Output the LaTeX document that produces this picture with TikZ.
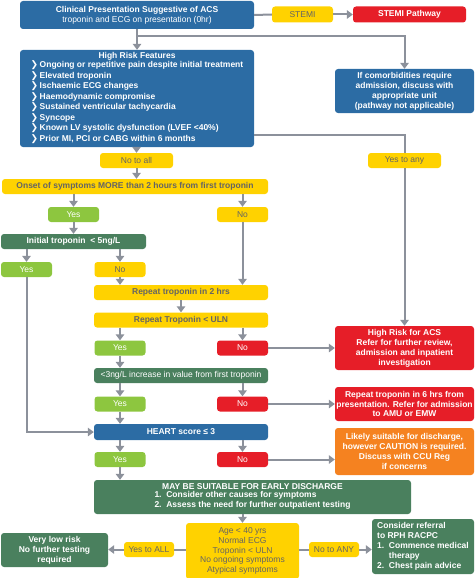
\documentclass[tikz,border=0pt]{standalone}
\usepackage{fontspec}
\setmainfont{Liberation Sans}
\newfontfamily\symfont{DejaVu Sans}
\usepackage{tikz}
\usetikzlibrary{arrows.meta}

\definecolor{acsblue}{RGB}{44,108,164}
\definecolor{acsyellow}{RGB}{255,210,0}
\definecolor{acslime}{RGB}{141,198,63}
\definecolor{acsgreen}{RGB}{74,128,94}
\definecolor{acsred}{RGB}{230,30,40}
\definecolor{acsorange}{RGB}{245,130,32}
\definecolor{acsgrey}{RGB}{140,145,155}
\definecolor{acstext}{RGB}{100,100,100}

\newcommand{\chev}{{\symfont\small ❯}\,}

\begin{document}
\begin{tikzpicture}[x=1pt,y=-1pt,
  cell/.style={rounded corners=3pt,inner sep=1pt,align=center,
    font=\fontsize{8.5}{9.9}\selectfont},
  bluebox/.style={cell,fill=acsblue,text=white,font=\fontsize{8.5}{9.9}\selectfont\bfseries},
  ybox/.style={cell,fill=acsyellow,text=acstext},
  ybold/.style={cell,fill=acsyellow,text=acstext,font=\fontsize{8.5}{9.9}\selectfont\bfseries},
  gbox/.style={cell,fill=acslime,text=white},
  dgbox/.style={cell,fill=acsgreen,text=white,font=\fontsize{8.5}{9.9}\selectfont\bfseries},
  rbox/.style={cell,fill=acsred,text=white,font=\fontsize{8.5}{9.9}\selectfont\bfseries},
  nobox/.style={cell,fill=acsred,text=white},
  obox/.style={cell,fill=acsorange,text=white,font=\fontsize{8.5}{9.9}\selectfont\bfseries},
  yesno/.style={minimum width=51pt,minimum height=15pt},
  line/.style={draw=acsgrey,line width=2pt},
  flow/.style={line,-{Triangle[width=8.5pt,length=6pt]},color=acsgrey}]
\useasboundingbox (0,0) rectangle (474,578);

% top of the pathway
\node[bluebox,minimum width=234pt,minimum height=28pt] (clin) at (137,15)
  {Clinical Presentation Suggestive of ACS\\
   {\mdseries troponin and ECG on presentation (0hr)}};
\node[ybox,minimum width=61pt,minimum height=16pt] (stemi) at (302.5,14.5) {STEMI};
\node[rbox,minimum width=113pt,minimum height=16pt] (stemip) at (409.5,14.5) {STEMI Pathway};
\node[bluebox,minimum width=234pt,minimum height=97pt] (hrf) at (137,98.5)
  {High Risk Features\\[-1.5pt]
   \def\arraystretch{1.06}%
   \begin{tabular}{@{}l@{}}
   \chev Ongoing or repetitive pain despite initial treatment\\
   \chev Elevated troponin\\
   \chev Ischaemic ECG changes\\
   \chev Haemodynamic compromise\\
   \chev Sustained ventricular tachycardia\\
   \chev Syncope\\
   \chev Known LV systolic dysfunction (LVEF <40\%)\\
   \chev Prior MI, PCI or CABG within 6 months
   \end{tabular}};
\node[bluebox,minimum width=139pt,minimum height=44pt] (comorb) at (404.5,91)
  {If comorbidities require\\admission, discuss with\\appropriate unit\\(pathway not applicable)};
\node[ybox,minimum width=73pt,minimum height=15pt] (noall) at (136.5,160.5) {No to all};
\node[ybox,minimum width=73pt,minimum height=15pt] (yesany) at (404.5,160.5) {Yes to any};

% troponin steps
\node[ybold,minimum width=266pt,minimum height=15pt] (onset) at (135,186.5)
  {Onset of symptoms MORE than 2 hours from first troponin};
\node[gbox,yesno] (yes1) at (73.5,214.5) {Yes};
\node[ybox,yesno] (no1) at (242.5,214.5) {No};
\node[dgbox,minimum width=145pt,minimum height=15pt] (init) at (73.5,241.5)
  {Initial troponin \ \textless\ 5ng/L};
\node[gbox,yesno] (yes2) at (26.5,269.5) {Yes};
\node[ybox,yesno] (no2) at (120,269.5) {No};
\node[ybold,minimum width=174pt,minimum height=15pt] (rep2) at (181,292.5) {Repeat troponin in 2 hrs};
\node[ybold,minimum width=174pt,minimum height=15pt] (uln) at (181,320) {Repeat Troponin \textless\ ULN};
\node[gbox,yesno] (yes3) at (120,348) {Yes};
\node[nobox,yesno] (no3) at (242.5,348) {No};
\node[rbox,minimum width=139pt,minimum height=44pt] (hracs) at (404.5,348)
  {High Risk for ACS\\Refer for further review,\\admission and inpatient\\investigation};
\node[cell,fill=acsgreen,text=white,minimum width=174pt,minimum height=15pt] (lt3) at (181,375.5)
  {\textless3ng/L increase in value from first troponin};
\node[gbox,yesno] (yes4) at (120,404) {Yes};
\node[nobox,yesno] (no4) at (242.5,404) {No};
\node[rbox,minimum width=139pt,minimum height=34pt] (rep6) at (404.5,404)
  {Repeat troponin in 6 hrs from\\presentation. Refer for admission\\to AMU or EMW};
\node[bluebox,minimum width=174pt,minimum height=16pt] (heart) at (181,432) {HEART score ≤ 3};
\node[obox,minimum width=139pt,minimum height=47pt] (likely) at (404.5,451.5)
  {Likely suitable for discharge,\\however CAUTION is required.\\Discuss with CCU Reg\\if concerns};
\node[gbox,yesno] (yes5) at (120,459.5) {Yes};
\node[nobox,yesno] (no5) at (242.5,459.5) {No};

% discharge
\node[dgbox,minimum width=317pt,minimum height=34pt] (may) at (252.5,497)
  {MAY BE SUITABLE FOR EARLY DISCHARGE\\
   \begin{tabular}{@{}l@{}}
   1.\ \ Consider other causes for symptoms\\
   2.\ \ Assess the need for further outpatient testing
   \end{tabular}};
\node[ybox,minimum width=113pt,minimum height=56pt] (age) at (242.5,551)
  {Age \textless\ 40 yrs\\Normal ECG\\Troponin \textless\ ULN\\No ongoing symptoms\\Atypical symptoms};
\node[dgbox,minimum width=107pt,minimum height=34pt] (vlr) at (54.5,550)
  {Very low risk\\No further testing\\required};
\node[ybox,minimum width=50pt,minimum height=15pt] (yesall) at (149,549.5) {Yes to ALL};
\node[ybox,minimum width=50pt,minimum height=15pt] (noany) at (334,549.5) {No to ANY};
\node[dgbox,minimum width=102pt,minimum height=55pt] (consider) at (423,546.5)
  {\begin{tabular}{@{}l@{}}
   Consider referral\\
   to RPH RACPC\\
   1.\ \ Commence medical\\
   \hphantom{1.\ \ }therapy\\
   2.\ \ Chest pain advice
   \end{tabular}};

% connectors
\coordinate (split) at (137,36);
\coordinate (hrfout) at (254,135);
\draw[line] (clin.east) -- (stemi.west);
\draw[flow] (stemi) -- (stemip);
\draw[flow] (clin.south) -- (hrf.north);
\draw[flow] (split) -| (comorb.north);
\draw[line] (hrfout) -| (yesany.north);
\draw[flow] (yesany) -- (hracs);
\draw[flow] (hrf.south -| noall.north) -- (noall.north);
\draw[flow] (noall) -- (onset.north -| noall);
\draw[flow] (onset.south -| yes1) -- (yes1);
\draw[flow] (onset.south -| no1) -- (no1);
\draw[flow] (yes1) -- (init.north -| yes1);
\draw[flow] (init.south -| yes2) -- (yes2);
\draw[flow] (init.south -| no2) -- (no2);
\draw[flow] (no2) -- (rep2.north -| no2);
\draw[flow] (no1) -- (rep2.north -| no1);
\draw[flow] (rep2) -- (uln);
\draw[flow] (uln.south -| yes3) -- (yes3);
\draw[flow] (uln.south -| no3) -- (no3);
\draw[flow] (no3) -- (hracs);
\draw[flow] (yes3) -- (lt3.north -| yes3);
\draw[flow] (lt3.south -| yes4) -- (yes4);
\draw[flow] (lt3.south -| no4) -- (no4);
\draw[flow] (no4) -- (rep6);
\draw[flow] (yes4) -- (heart.north -| yes4);
\draw[flow] (yes2.south) |- (heart.west);
\draw[flow] (heart.south -| yes5) -- (yes5);
\draw[flow] (heart.south -| no5) -- (no5);
\draw[flow] (no5) -- (likely.west |- no5);
\draw[flow] (yes5) -- (may.north -| yes5);
\draw[flow] (may.south -| age) -- (age);
\draw[line] (age.west |- yesall) -- (yesall);
\draw[flow] (yesall) -- (vlr.east |- yesall);
\draw[line] (age.east |- noany) -- (noany);
\draw[flow] (noany) -- (consider.west |- noany);
\end{tikzpicture}
\end{document}
